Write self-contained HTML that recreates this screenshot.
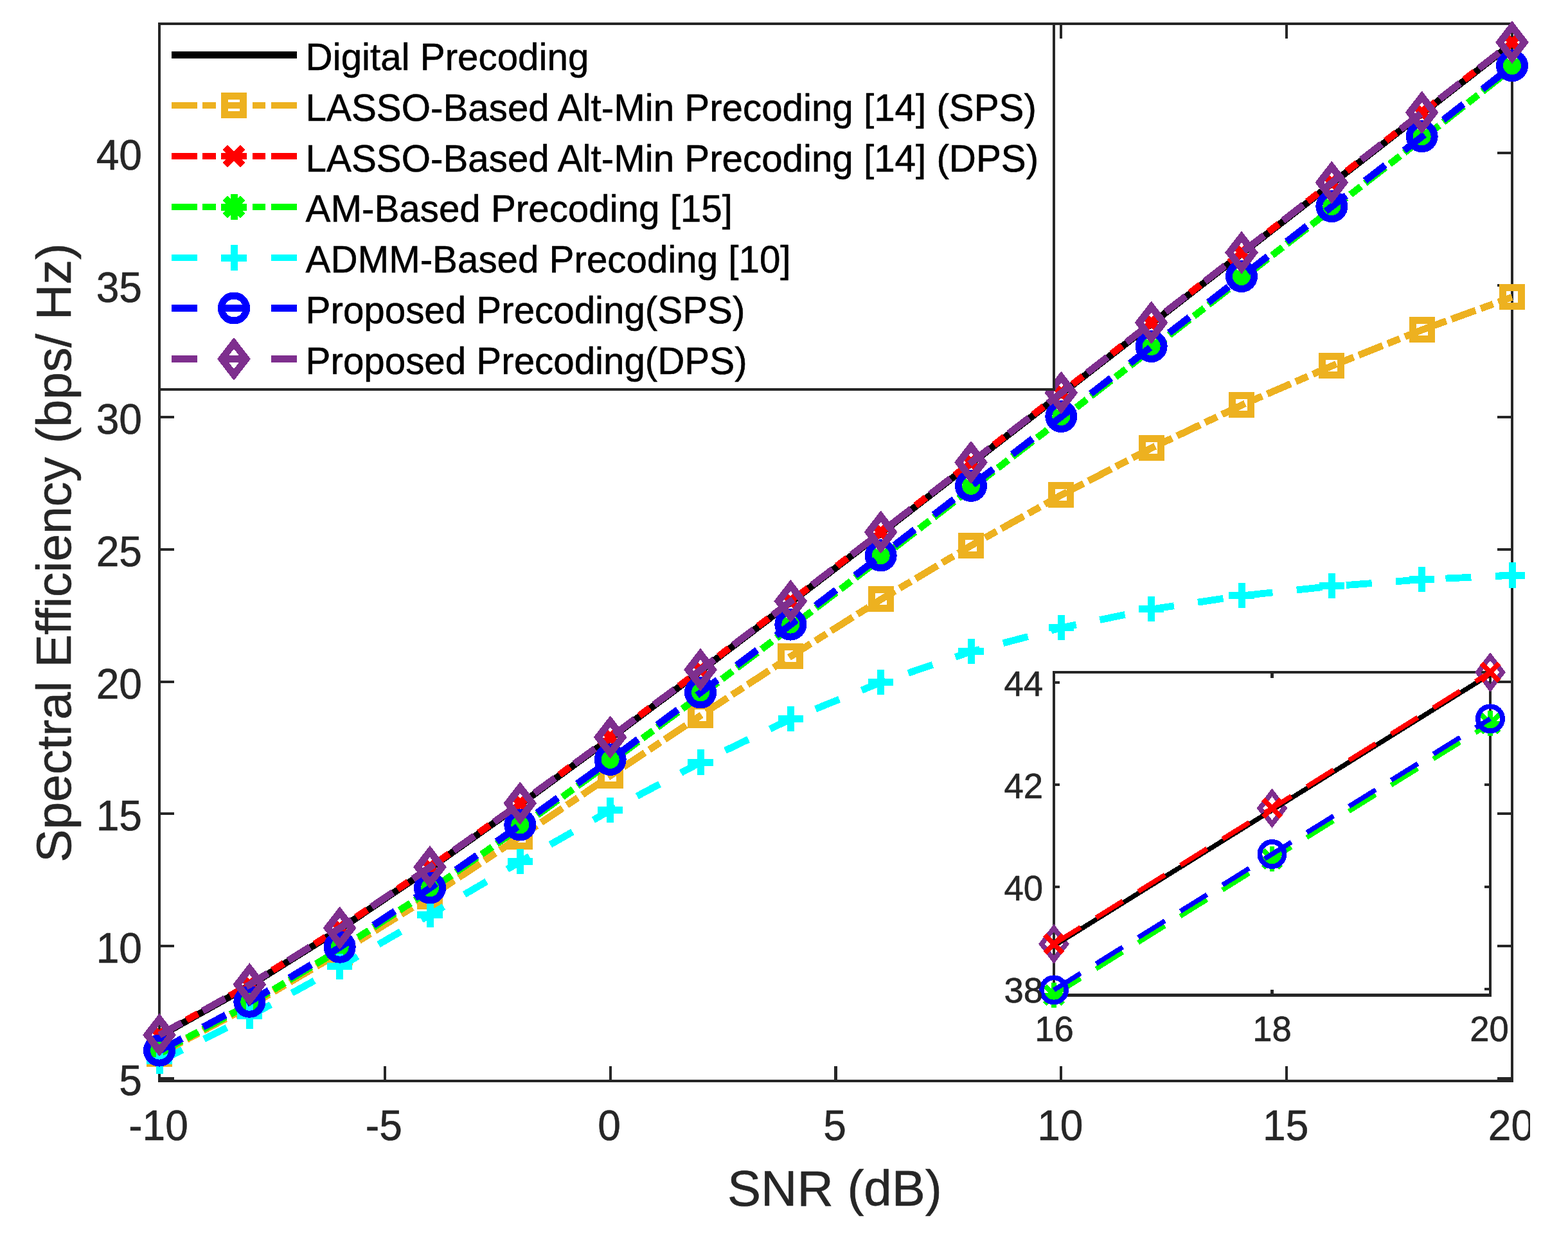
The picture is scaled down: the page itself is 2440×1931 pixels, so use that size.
<!DOCTYPE html>
<html lang="en"><head><meta charset="utf-8"><title>Spectral Efficiency vs SNR</title>
<style>html,body{margin:0;padding:0;background:#fff;width:2440px;height:1931px}svg{display:block}text{font-family:"Liberation Sans",sans-serif;fill:#262626;stroke:#262626;stroke-width:.6px;stroke-linejoin:round}.tk{font-size:64.1px}.itk{font-size:54.5px}.lb{font-size:77px}.lg{font-size:58.3px;fill:#000;stroke:#000}</style></head><body>
<svg width="2440" height="1931" viewBox="0 0 2440 1931">
<rect x="0" y="0" width="2440" height="1931" fill="#ffffff"/>
<g>
<g shape-rendering="crispEdges" stroke="#262626" stroke-width="4.2" fill="none" stroke-linecap="butt">
<rect x="248" y="37" width="2105" height="1645"/>
<path d="M598.83 1682V1659M598.83 37V60M949.67 1682V1659M949.67 37V60M1300.5 1682V1659M1300.5 37V60M1651.33 1682V1659M1651.33 37V60M2002.17 1682V1659M2002.17 37V60M248 1677.67H271M2353 1677.67H2330M248 1472.01H271M2353 1472.01H2330M248 1266.34H271M2353 1266.34H2330M248 1060.68H271M2353 1060.68H2330M248 855.01H271M2353 855.01H2330M248 649.35H271M2353 649.35H2330M248 443.68H271M2353 443.68H2330M248 238.01H271M2353 238.01H2330"/>
</g>
<g shape-rendering="crispEdges" stroke-linecap="butt">
<path d="M248 1612.3 L388.33 1533.7 L528.67 1445.9 L669 1351.1 L809.33 1251.8 L949.67 1149 L1090 1044 L1230.33 937.3 L1370.67 829.9 L1511 721.4 L1651.33 613 L1791.67 503.9 L1932 394.9 L2072.33 285.9 L2212.67 176.9 L2353 67.7" fill="none" stroke="#000000" stroke-width="10.8" stroke-linejoin="miter"/>
<path d="M248 1640.2L283.21 1621.43M290.7 1617.44L308.74 1607.82M316.22 1603.84L351.44 1585.07M358.92 1581.08L376.97 1571.46M384.45 1567.47L388.33 1565.4L418.88 1547.33M426.17 1543.02L443.77 1532.61M451.06 1528.3L485.39 1507.99M492.69 1503.68L510.28 1493.27M517.58 1488.96L528.67 1482.4L551.6 1468.15M558.79 1463.68L576.15 1452.89M583.35 1448.42L617.22 1427.37M624.42 1422.9L641.78 1412.11M648.98 1407.64L669 1395.2L682.58 1386.19M689.64 1381.51L706.67 1370.21M713.72 1365.53L746.94 1343.49M754 1338.81L771.03 1327.51M778.09 1322.83L809.33 1302.1L811.3 1300.77M818.31 1296.03L835.24 1284.58M842.25 1279.84L875.27 1257.51M882.29 1252.76L899.21 1241.32M906.23 1236.57L939.25 1214.24M946.27 1209.5L949.67 1207.2L963.24 1198.13M970.28 1193.42L1003.42 1171.27M1010.47 1166.56L1027.45 1155.21M1034.5 1150.5L1067.64 1128.35M1074.68 1123.64L1090 1113.4L1091.68 1112.3M1098.76 1107.66L1132.1 1085.8M1139.19 1081.15L1156.27 1069.95M1163.36 1065.31L1196.7 1043.45M1203.79 1038.8L1220.87 1027.6M1227.96 1022.96L1230.33 1021.4L1261.65 1001.63M1268.81 997.11L1286.09 986.2M1293.26 981.67L1326.98 960.38M1334.14 955.86L1351.42 944.95M1358.59 940.43L1370.67 932.8L1392.64 919.68M1399.92 915.33L1417.47 904.85M1424.74 900.51L1458.99 880.06M1466.26 875.71L1483.81 865.24M1491.09 860.89L1511 849L1525.57 840.84M1532.97 836.7L1550.8 826.71M1558.2 822.56L1593.01 803.07M1600.4 798.93L1618.24 788.93M1625.64 784.79L1651.33 770.4L1660.6 765.57M1668.12 761.66L1686.26 752.21M1693.78 748.29L1729.17 729.85M1736.69 725.94L1754.83 716.49M1762.35 712.57L1791.67 697.3L1797.85 694.35M1805.51 690.7L1823.98 681.9M1831.63 678.25L1867.67 661.07M1875.33 657.42L1893.79 648.61M1901.45 644.96L1932 630.4L1937.57 627.98M1945.36 624.6L1964.13 616.46M1971.91 613.08L2008.54 597.18M2016.33 593.81L2035.1 585.66M2042.88 582.28L2072.33 569.5L2079.6 566.59M2087.48 563.43L2106.48 555.83M2114.36 552.67L2151.44 537.82M2159.31 534.67L2178.32 527.06M2186.2 523.9L2212.67 513.3L2223.41 509.4M2231.39 506.51L2250.64 499.53M2258.62 496.63L2296.17 483.01M2304.15 480.12L2323.4 473.14M2331.38 470.24L2353 462.4" fill="none" stroke="#EDB120" stroke-width="10.8" stroke-linejoin="miter"/>
<rect x="233.5" y="1625.3" width="29" height="29" fill="none" stroke="#EDB120" stroke-width="11"/><rect x="373.83" y="1550.5" width="29" height="29" fill="none" stroke="#EDB120" stroke-width="11"/><rect x="514.17" y="1467.5" width="29" height="29" fill="none" stroke="#EDB120" stroke-width="11"/><rect x="654.5" y="1380.3" width="29" height="29" fill="none" stroke="#EDB120" stroke-width="11"/><rect x="794.83" y="1287.2" width="29" height="29" fill="none" stroke="#EDB120" stroke-width="11"/><rect x="935.17" y="1192.3" width="29" height="29" fill="none" stroke="#EDB120" stroke-width="11"/><rect x="1075.5" y="1098.5" width="29" height="29" fill="none" stroke="#EDB120" stroke-width="11"/><rect x="1215.83" y="1006.5" width="29" height="29" fill="none" stroke="#EDB120" stroke-width="11"/><rect x="1356.17" y="917.9" width="29" height="29" fill="none" stroke="#EDB120" stroke-width="11"/><rect x="1496.5" y="834.1" width="29" height="29" fill="none" stroke="#EDB120" stroke-width="11"/><rect x="1636.83" y="755.5" width="29" height="29" fill="none" stroke="#EDB120" stroke-width="11"/><rect x="1777.17" y="682.4" width="29" height="29" fill="none" stroke="#EDB120" stroke-width="11"/><rect x="1917.5" y="615.5" width="29" height="29" fill="none" stroke="#EDB120" stroke-width="11"/><rect x="2057.83" y="554.6" width="29" height="29" fill="none" stroke="#EDB120" stroke-width="11"/><rect x="2198.17" y="498.4" width="29" height="29" fill="none" stroke="#EDB120" stroke-width="11"/><rect x="2338.5" y="447.5" width="29" height="29" fill="none" stroke="#EDB120" stroke-width="11"/>
<path d="M248 1610.8L282.81 1591.3M290.2 1587.16L308.04 1577.17M315.44 1573.03L350.25 1553.53M357.64 1549.39L375.48 1539.4M382.88 1535.26L388.33 1532.2L416.84 1514.37M424.02 1509.87L441.35 1499.03M448.53 1494.54L482.34 1473.39M489.52 1468.89L506.84 1458.05M514.03 1453.56L528.67 1444.4L547.39 1431.75M554.41 1427.01L571.34 1415.57M578.36 1410.83L611.39 1388.52M618.41 1383.77L635.34 1372.34M642.36 1367.6L669 1349.6L675.3 1345.15M682.21 1340.25L698.88 1328.46M705.79 1323.56L738.33 1300.54M745.24 1295.65L761.91 1283.85M768.83 1278.96L801.36 1255.94M808.27 1251.05L809.33 1250.3L824.76 1239M831.59 1234L863.73 1210.45M870.56 1205.45L887.04 1193.38M893.87 1188.37L926.01 1164.83M932.84 1159.82L949.32 1147.76M956.1 1142.69L988 1118.82M994.78 1113.75L1011.13 1101.51M1017.91 1096.44L1049.81 1072.57M1056.59 1067.5L1072.94 1055.27M1079.72 1050.2L1090 1042.5L1111.49 1026.16M1118.23 1021.04L1134.48 1008.68M1141.22 1003.56L1172.93 979.44M1179.67 974.32L1195.93 961.96M1202.66 956.84L1230.33 935.8L1234.37 932.71M1241.09 927.57L1257.3 915.16M1264.03 910.01L1295.66 885.8M1302.39 880.66L1318.6 868.25M1325.32 863.1L1356.96 838.89M1363.68 833.75L1370.67 828.4L1379.86 821.29M1386.55 816.12L1418.07 791.75M1424.77 786.57L1440.92 774.09M1447.61 768.91L1479.13 744.54M1485.83 739.36L1501.98 726.88M1508.67 721.7L1511 719.9L1540.2 697.35M1546.9 692.17L1563.06 679.69M1569.75 674.52L1601.28 650.16M1607.98 644.99L1624.14 632.51M1630.84 627.33L1651.33 611.5L1662.33 602.95M1669.02 597.75L1685.13 585.22M1691.82 580.03L1723.27 555.58M1729.95 550.38L1746.07 537.85M1752.75 532.66L1784.2 508.21M1790.88 503.01L1791.67 502.4L1807 490.49M1813.69 485.3L1845.15 460.86M1851.83 455.67L1867.96 443.15M1874.64 437.95L1906.1 413.52M1912.79 408.32L1928.91 395.8M1935.59 390.61L1967.05 366.17M1973.74 360.98L1989.86 348.46M1996.55 343.27L2028.01 318.83M2034.69 313.64L2050.81 301.11M2057.5 295.92L2072.33 284.4L2088.96 271.49M2095.64 266.29L2111.77 253.77M2118.45 248.58L2149.91 224.14M2156.6 218.95L2172.72 206.43M2179.41 201.24L2210.87 176.8M2217.55 171.6L2233.66 159.07M2240.34 153.87L2271.78 129.4M2278.46 124.21L2294.57 111.67M2301.25 106.47L2332.69 82.01M2339.37 76.81L2353 66.2" fill="none" stroke="#FF0000" stroke-width="10.8" stroke-linejoin="miter"/>
<path d="M234.4 1596.8L261.6 1624M234.4 1624L261.6 1596.8" fill="none" stroke="#FF0000" stroke-width="11"/><path d="M374.73 1518.2L401.93 1545.4M374.73 1545.4L401.93 1518.2" fill="none" stroke="#FF0000" stroke-width="11"/><path d="M515.07 1430.4L542.27 1457.6M515.07 1457.6L542.27 1430.4" fill="none" stroke="#FF0000" stroke-width="11"/><path d="M655.4 1335.6L682.6 1362.8M655.4 1362.8L682.6 1335.6" fill="none" stroke="#FF0000" stroke-width="11"/><path d="M795.73 1236.3L822.93 1263.5M795.73 1263.5L822.93 1236.3" fill="none" stroke="#FF0000" stroke-width="11"/><path d="M936.07 1133.5L963.27 1160.7M936.07 1160.7L963.27 1133.5" fill="none" stroke="#FF0000" stroke-width="11"/><path d="M1076.4 1028.5L1103.6 1055.7M1076.4 1055.7L1103.6 1028.5" fill="none" stroke="#FF0000" stroke-width="11"/><path d="M1216.73 921.8L1243.93 949M1216.73 949L1243.93 921.8" fill="none" stroke="#FF0000" stroke-width="11"/><path d="M1357.07 814.4L1384.27 841.6M1357.07 841.6L1384.27 814.4" fill="none" stroke="#FF0000" stroke-width="11"/><path d="M1497.4 705.9L1524.6 733.1M1497.4 733.1L1524.6 705.9" fill="none" stroke="#FF0000" stroke-width="11"/><path d="M1637.73 597.5L1664.93 624.7M1637.73 624.7L1664.93 597.5" fill="none" stroke="#FF0000" stroke-width="11"/><path d="M1778.07 488.4L1805.27 515.6M1778.07 515.6L1805.27 488.4" fill="none" stroke="#FF0000" stroke-width="11"/><path d="M1918.4 379.4L1945.6 406.6M1918.4 406.6L1945.6 379.4" fill="none" stroke="#FF0000" stroke-width="11"/><path d="M2058.73 270.4L2085.93 297.6M2058.73 297.6L2085.93 270.4" fill="none" stroke="#FF0000" stroke-width="11"/><path d="M2199.07 161.4L2226.27 188.6M2199.07 188.6L2226.27 161.4" fill="none" stroke="#FF0000" stroke-width="11"/><path d="M2339.4 52.2L2366.6 79.4M2339.4 79.4L2366.6 52.2" fill="none" stroke="#FF0000" stroke-width="11"/>
<path d="M248 1638.2L283.11 1619.24M290.57 1615.21L308.56 1605.49M316.02 1601.46L351.13 1582.5M358.59 1578.47L376.58 1568.75M384.04 1564.72L388.33 1562.4L418.28 1544.28M425.53 1539.89L443.02 1529.31M450.27 1524.93L484.4 1504.28M491.65 1499.9L509.13 1489.32M516.39 1484.93L528.67 1477.5L550 1463.5M557.08 1458.85L574.17 1447.64M581.25 1442.99L614.58 1421.12M621.66 1416.47L638.74 1405.26M645.83 1400.61L669 1385.4L678.96 1378.46M685.91 1373.61L702.67 1361.93M709.62 1357.09L742.32 1334.3M749.27 1329.46L766.02 1317.78M772.97 1312.94L805.67 1290.15M812.58 1285.25L829.13 1273.29M836 1268.33L868.3 1244.99M875.16 1240.04L891.71 1228.07M898.58 1223.12L930.88 1199.78M937.74 1194.82L949.67 1186.2L954.25 1182.8M961.05 1177.75L993.04 1154M999.84 1148.95L1016.23 1136.78M1023.03 1131.73L1055.02 1107.98M1061.82 1102.93L1078.21 1090.75M1085.01 1085.71L1090 1082L1116.85 1061.76M1123.61 1056.66L1139.91 1044.37M1146.67 1039.27L1178.48 1015.29M1185.24 1010.19L1201.55 997.9M1208.31 992.81L1230.33 976.2L1240.07 968.76M1246.8 963.61L1263.01 951.21M1269.74 946.07L1301.39 921.87M1308.11 916.73L1324.33 904.33M1331.06 899.19L1362.7 874.99M1369.43 869.85L1370.67 868.9L1385.58 857.37M1392.28 852.19L1423.8 827.82M1430.49 822.65L1446.64 810.16M1453.34 804.98L1484.85 780.61M1491.55 775.44L1507.7 762.95M1514.41 757.78L1545.98 733.48M1552.68 728.32L1568.86 715.87M1575.57 710.71L1607.14 686.41M1613.85 681.25L1630.03 668.8M1636.74 663.63L1651.33 652.4L1668.25 639.26M1674.93 634.07L1691.06 621.55M1697.74 616.35L1729.2 591.92M1735.89 586.73L1752.01 574.2M1758.7 569.01L1790.15 544.57M1796.84 539.38L1812.96 526.85M1819.64 521.65L1851.09 497.21M1857.77 492.01L1873.89 479.48M1880.57 474.28L1912.02 449.83M1918.7 444.64L1932 434.3L1934.82 432.11M1941.51 426.92L1972.98 402.5M1979.67 397.31L1995.8 384.79M2002.48 379.61L2033.95 355.18M2040.64 349.99L2056.77 337.48M2063.46 332.29L2072.33 325.4L2094.91 307.85M2101.59 302.65L2117.71 290.12M2124.39 284.93L2155.84 260.48M2162.53 255.28L2178.64 242.75M2185.33 237.56L2212.67 216.3L2216.76 213.09M2223.42 207.86L2239.48 195.26M2246.14 190.04L2277.48 165.45M2284.14 160.23L2300.2 147.63M2306.86 142.4L2338.2 117.81M2344.86 112.59L2353 106.2" fill="none" stroke="#00FF00" stroke-width="10.8" stroke-linejoin="miter"/>
<path d="M228.4 1637.8L267.6 1637.8M248 1618.2L248 1657.4" fill="none" stroke="#00FF00" stroke-width="11"/><path d="M234.4 1624.2L261.6 1651.4M234.4 1651.4L261.6 1624.2" fill="none" stroke="#00FF00" stroke-width="11"/><path d="M368.73 1562L407.93 1562M388.33 1542.4L388.33 1581.6" fill="none" stroke="#00FF00" stroke-width="11"/><path d="M374.73 1548.4L401.93 1575.6M374.73 1575.6L401.93 1548.4" fill="none" stroke="#00FF00" stroke-width="11"/><path d="M509.07 1477.1L548.27 1477.1M528.67 1457.5L528.67 1496.7" fill="none" stroke="#00FF00" stroke-width="11"/><path d="M515.07 1463.5L542.27 1490.7M515.07 1490.7L542.27 1463.5" fill="none" stroke="#00FF00" stroke-width="11"/><path d="M649.4 1385L688.6 1385M669 1365.4L669 1404.6" fill="none" stroke="#00FF00" stroke-width="11"/><path d="M655.4 1371.4L682.6 1398.6M655.4 1398.6L682.6 1371.4" fill="none" stroke="#00FF00" stroke-width="11"/><path d="M789.73 1287.2L828.93 1287.2M809.33 1267.6L809.33 1306.8" fill="none" stroke="#00FF00" stroke-width="11"/><path d="M795.73 1273.6L822.93 1300.8M795.73 1300.8L822.93 1273.6" fill="none" stroke="#00FF00" stroke-width="11"/><path d="M930.07 1185.8L969.27 1185.8M949.67 1166.2L949.67 1205.4" fill="none" stroke="#00FF00" stroke-width="11"/><path d="M936.07 1172.2L963.27 1199.4M936.07 1199.4L963.27 1172.2" fill="none" stroke="#00FF00" stroke-width="11"/><path d="M1070.4 1081.6L1109.6 1081.6M1090 1062L1090 1101.2" fill="none" stroke="#00FF00" stroke-width="11"/><path d="M1076.4 1068L1103.6 1095.2M1076.4 1095.2L1103.6 1068" fill="none" stroke="#00FF00" stroke-width="11"/><path d="M1210.73 975.8L1249.93 975.8M1230.33 956.2L1230.33 995.4" fill="none" stroke="#00FF00" stroke-width="11"/><path d="M1216.73 962.2L1243.93 989.4M1216.73 989.4L1243.93 962.2" fill="none" stroke="#00FF00" stroke-width="11"/><path d="M1351.07 868.5L1390.27 868.5M1370.67 848.9L1370.67 888.1" fill="none" stroke="#00FF00" stroke-width="11"/><path d="M1357.07 854.9L1384.27 882.1M1357.07 882.1L1384.27 854.9" fill="none" stroke="#00FF00" stroke-width="11"/><path d="M1491.4 760L1530.6 760M1511 740.4L1511 779.6" fill="none" stroke="#00FF00" stroke-width="11"/><path d="M1497.4 746.4L1524.6 773.6M1497.4 773.6L1524.6 746.4" fill="none" stroke="#00FF00" stroke-width="11"/><path d="M1631.73 652L1670.93 652M1651.33 632.4L1651.33 671.6" fill="none" stroke="#00FF00" stroke-width="11"/><path d="M1637.73 638.4L1664.93 665.6M1637.73 665.6L1664.93 638.4" fill="none" stroke="#00FF00" stroke-width="11"/><path d="M1772.07 543L1811.27 543M1791.67 523.4L1791.67 562.6" fill="none" stroke="#00FF00" stroke-width="11"/><path d="M1778.07 529.4L1805.27 556.6M1778.07 556.6L1805.27 529.4" fill="none" stroke="#00FF00" stroke-width="11"/><path d="M1912.4 433.9L1951.6 433.9M1932 414.3L1932 453.5" fill="none" stroke="#00FF00" stroke-width="11"/><path d="M1918.4 420.3L1945.6 447.5M1918.4 447.5L1945.6 420.3" fill="none" stroke="#00FF00" stroke-width="11"/><path d="M2052.73 325L2091.93 325M2072.33 305.4L2072.33 344.6" fill="none" stroke="#00FF00" stroke-width="11"/><path d="M2058.73 311.4L2085.93 338.6M2058.73 338.6L2085.93 311.4" fill="none" stroke="#00FF00" stroke-width="11"/><path d="M2193.07 215.9L2232.27 215.9M2212.67 196.3L2212.67 235.5" fill="none" stroke="#00FF00" stroke-width="11"/><path d="M2199.07 202.3L2226.27 229.5M2199.07 229.5L2226.27 202.3" fill="none" stroke="#00FF00" stroke-width="11"/><path d="M2333.4 105.8L2372.6 105.8M2353 86.2L2353 125.4" fill="none" stroke="#00FF00" stroke-width="11"/><path d="M2339.4 92.2L2366.6 119.4M2339.4 119.4L2366.6 92.2" fill="none" stroke="#00FF00" stroke-width="11"/>
<path d="M248 1651.3L283.72 1633.48M317.2 1616.78L352.91 1598.97M386.4 1582.27L388.33 1581.3L421.42 1563.15M454.21 1545.15L489.19 1525.96M521.98 1507.97L528.67 1504.3L556.62 1488.19M589.02 1469.51L623.58 1449.59M655.97 1430.91L669 1423.4L690.43 1410.8M722.66 1391.85L757.05 1371.64M789.28 1352.69L809.33 1340.9L823.78 1332.66M856.27 1314.14L890.93 1294.39M923.42 1275.86L949.67 1260.9L958.22 1256.36M991.26 1238.82L1026.5 1220.11M1059.54 1202.57L1090 1186.4L1094.89 1184.05M1128.61 1167.83L1164.58 1150.53M1198.31 1134.3L1230.33 1118.9L1234.39 1117.25M1269.08 1103.16L1306.08 1088.13M1340.77 1074.04L1370.67 1061.9L1377.93 1059.42M1413.37 1047.29L1451.17 1034.36M1486.61 1022.24L1511 1013.9L1524.72 1010.28M1560.95 1000.73L1599.6 990.54M1635.84 980.99L1651.33 976.9L1674.79 972.07M1711.51 964.51L1750.67 956.44M1787.38 948.88L1791.67 948L1826.89 942.73M1863.96 937.18L1903.51 931.26M1940.64 926.09L1980.42 921.89M2017.7 917.96L2057.48 913.77M2094.83 910.52L2134.72 907.53M2172.11 904.73L2212 901.75M2249.46 900.05L2289.41 898.25M2326.88 896.57L2353 895.4" fill="none" stroke="#00FFFF" stroke-width="10.8" stroke-linejoin="miter"/>
<path d="M228.4 1650.9L267.6 1650.9M248 1631.3L248 1670.5" fill="none" stroke="#00FFFF" stroke-width="11"/><path d="M368.73 1580.9L407.93 1580.9M388.33 1561.3L388.33 1600.5" fill="none" stroke="#00FFFF" stroke-width="11"/><path d="M509.07 1503.9L548.27 1503.9M528.67 1484.3L528.67 1523.5" fill="none" stroke="#00FFFF" stroke-width="11"/><path d="M649.4 1423L688.6 1423M669 1403.4L669 1442.6" fill="none" stroke="#00FFFF" stroke-width="11"/><path d="M789.73 1340.5L828.93 1340.5M809.33 1320.9L809.33 1360.1" fill="none" stroke="#00FFFF" stroke-width="11"/><path d="M930.07 1260.5L969.27 1260.5M949.67 1240.9L949.67 1280.1" fill="none" stroke="#00FFFF" stroke-width="11"/><path d="M1070.4 1186L1109.6 1186M1090 1166.4L1090 1205.6" fill="none" stroke="#00FFFF" stroke-width="11"/><path d="M1210.73 1118.5L1249.93 1118.5M1230.33 1098.9L1230.33 1138.1" fill="none" stroke="#00FFFF" stroke-width="11"/><path d="M1351.07 1061.5L1390.27 1061.5M1370.67 1041.9L1370.67 1081.1" fill="none" stroke="#00FFFF" stroke-width="11"/><path d="M1491.4 1013.5L1530.6 1013.5M1511 993.9L1511 1033.1" fill="none" stroke="#00FFFF" stroke-width="11"/><path d="M1631.73 976.5L1670.93 976.5M1651.33 956.9L1651.33 996.1" fill="none" stroke="#00FFFF" stroke-width="11"/><path d="M1772.07 947.6L1811.27 947.6M1791.67 928L1791.67 967.2" fill="none" stroke="#00FFFF" stroke-width="11"/><path d="M1912.4 926.6L1951.6 926.6M1932 907L1932 946.2" fill="none" stroke="#00FFFF" stroke-width="11"/><path d="M2052.73 911.8L2091.93 911.8M2072.33 892.2L2072.33 931.4" fill="none" stroke="#00FFFF" stroke-width="11"/><path d="M2193.07 901.3L2232.27 901.3M2212.67 881.7L2212.67 920.9" fill="none" stroke="#00FFFF" stroke-width="11"/><path d="M2333.4 895L2372.6 895M2353 875.4L2353 914.6" fill="none" stroke="#00FFFF" stroke-width="11"/>
<path d="M248 1635L283.1 1616.02M316 1598.22L351.09 1579.24M384 1561.45L388.33 1559.1L418.23 1540.99M450.21 1521.62L484.32 1500.96M516.3 1481.59L528.67 1474.1L549.91 1460.14M581.15 1439.62L614.47 1417.73M645.7 1397.21L669 1381.9L678.83 1375.04M709.46 1353.64L742.14 1330.82M772.77 1309.43L805.45 1286.61M835.76 1264.77L868.04 1241.4M898.3 1219.49L930.57 1196.12M960.73 1174.07L992.69 1150.29M1022.66 1128L1054.63 1104.21M1084.6 1081.92L1090 1077.9L1116.43 1057.96M1146.24 1035.46L1178.04 1011.46M1207.86 988.96L1230.33 972L1239.61 964.9M1269.28 942.22L1300.93 918.02M1330.6 895.34L1362.25 871.14M1391.83 848.35L1423.36 824M1452.92 801.17L1484.44 776.82M1514 753.99L1545.58 729.71M1575.19 706.95L1606.77 682.66M1636.38 659.9L1651.33 648.4L1667.89 635.54M1697.39 612.63L1728.85 588.19M1758.34 565.29L1789.8 540.85M1819.29 517.94L1850.75 493.51M1880.25 470.6L1911.71 446.16M1941.2 423.26L1972.67 398.84M2002.18 375.94L2033.65 351.52M2063.15 328.63L2072.33 321.5L2094.62 304.2M2124.13 281.31L2155.6 256.89M2185.1 233.99L2212.67 212.6L2216.56 209.55M2245.95 186.52L2277.29 161.94M2306.69 138.9L2338.03 114.33" fill="none" stroke="#0000FF" stroke-width="10.8" stroke-linejoin="miter"/>
<circle cx="248" cy="1634.6" r="19.5" fill="none" stroke="#0000FF" stroke-width="11"/><circle cx="388.33" cy="1558.7" r="19.5" fill="none" stroke="#0000FF" stroke-width="11"/><circle cx="528.67" cy="1473.7" r="19.5" fill="none" stroke="#0000FF" stroke-width="11"/><circle cx="669" cy="1381.5" r="19.5" fill="none" stroke="#0000FF" stroke-width="11"/><circle cx="809.33" cy="1283.5" r="19.5" fill="none" stroke="#0000FF" stroke-width="11"/><circle cx="949.67" cy="1181.9" r="19.5" fill="none" stroke="#0000FF" stroke-width="11"/><circle cx="1090" cy="1077.5" r="19.5" fill="none" stroke="#0000FF" stroke-width="11"/><circle cx="1230.33" cy="971.6" r="19.5" fill="none" stroke="#0000FF" stroke-width="11"/><circle cx="1370.67" cy="864.3" r="19.5" fill="none" stroke="#0000FF" stroke-width="11"/><circle cx="1511" cy="755.9" r="19.5" fill="none" stroke="#0000FF" stroke-width="11"/><circle cx="1651.33" cy="648" r="19.5" fill="none" stroke="#0000FF" stroke-width="11"/><circle cx="1791.67" cy="539" r="19.5" fill="none" stroke="#0000FF" stroke-width="11"/><circle cx="1932" cy="430" r="19.5" fill="none" stroke="#0000FF" stroke-width="11"/><circle cx="2072.33" cy="321.1" r="19.5" fill="none" stroke="#0000FF" stroke-width="11"/><circle cx="2212.67" cy="212.2" r="19.5" fill="none" stroke="#0000FF" stroke-width="11"/><circle cx="2353" cy="102.2" r="19.5" fill="none" stroke="#0000FF" stroke-width="11"/>
<path d="M248 1610.8L282.81 1591.3M315.44 1573.03L350.25 1553.53M382.88 1535.26L388.33 1532.2L416.84 1514.37M448.53 1494.54L482.34 1473.39M514.03 1453.56L528.67 1444.4L547.39 1431.75M578.36 1410.83L611.39 1388.52M642.36 1367.6L669 1349.6L675.3 1345.15M705.79 1323.56L738.33 1300.54M768.83 1278.96L801.36 1255.94M831.59 1234L863.73 1210.45M893.87 1188.37L926.01 1164.83M956.1 1142.69L988 1118.82M1017.91 1096.44L1049.81 1072.57M1079.72 1050.2L1090 1042.5L1111.49 1026.16M1141.22 1003.56L1172.93 979.44M1202.66 956.84L1230.33 935.8L1234.37 932.71M1264.03 910.01L1295.66 885.8M1325.32 863.1L1356.96 838.89M1386.55 816.12L1418.07 791.75M1447.61 768.91L1479.13 744.54M1508.67 721.7L1511 719.9L1540.2 697.35M1569.75 674.52L1601.28 650.16M1630.84 627.33L1651.33 611.5L1662.33 602.95M1691.82 580.03L1723.27 555.58M1752.75 532.66L1784.2 508.21M1813.69 485.3L1845.15 460.86M1874.64 437.95L1906.1 413.52M1935.59 390.61L1967.05 366.17M1996.55 343.27L2028.01 318.83M2057.5 295.92L2072.33 284.4L2088.96 271.49M2118.45 248.58L2149.91 224.14M2179.41 201.24L2210.87 176.8M2240.34 153.87L2271.78 129.4M2301.25 106.47L2332.69 82.01" fill="none" stroke="#7E2F8E" stroke-width="10.8" stroke-linejoin="miter"/>
<path d="M248 1585.8L267 1610.4L248 1635L229 1610.4Z" fill="none" stroke="#7E2F8E" stroke-width="11" stroke-linejoin="miter" stroke-miterlimit="10"/><path d="M388.33 1507.2L407.33 1531.8L388.33 1556.4L369.33 1531.8Z" fill="none" stroke="#7E2F8E" stroke-width="11" stroke-linejoin="miter" stroke-miterlimit="10"/><path d="M528.67 1419.4L547.67 1444L528.67 1468.6L509.67 1444Z" fill="none" stroke="#7E2F8E" stroke-width="11" stroke-linejoin="miter" stroke-miterlimit="10"/><path d="M669 1324.6L688 1349.2L669 1373.8L650 1349.2Z" fill="none" stroke="#7E2F8E" stroke-width="11" stroke-linejoin="miter" stroke-miterlimit="10"/><path d="M809.33 1225.3L828.33 1249.9L809.33 1274.5L790.33 1249.9Z" fill="none" stroke="#7E2F8E" stroke-width="11" stroke-linejoin="miter" stroke-miterlimit="10"/><path d="M949.67 1122.5L968.67 1147.1L949.67 1171.7L930.67 1147.1Z" fill="none" stroke="#7E2F8E" stroke-width="11" stroke-linejoin="miter" stroke-miterlimit="10"/><path d="M1090 1017.5L1109 1042.1L1090 1066.7L1071 1042.1Z" fill="none" stroke="#7E2F8E" stroke-width="11" stroke-linejoin="miter" stroke-miterlimit="10"/><path d="M1230.33 910.8L1249.33 935.4L1230.33 960L1211.33 935.4Z" fill="none" stroke="#7E2F8E" stroke-width="11" stroke-linejoin="miter" stroke-miterlimit="10"/><path d="M1370.67 803.4L1389.67 828L1370.67 852.6L1351.67 828Z" fill="none" stroke="#7E2F8E" stroke-width="11" stroke-linejoin="miter" stroke-miterlimit="10"/><path d="M1511 694.9L1530 719.5L1511 744.1L1492 719.5Z" fill="none" stroke="#7E2F8E" stroke-width="11" stroke-linejoin="miter" stroke-miterlimit="10"/><path d="M1651.33 586.5L1670.33 611.1L1651.33 635.7L1632.33 611.1Z" fill="none" stroke="#7E2F8E" stroke-width="11" stroke-linejoin="miter" stroke-miterlimit="10"/><path d="M1791.67 477.4L1810.67 502L1791.67 526.6L1772.67 502Z" fill="none" stroke="#7E2F8E" stroke-width="11" stroke-linejoin="miter" stroke-miterlimit="10"/><path d="M1932 368.4L1951 393L1932 417.6L1913 393Z" fill="none" stroke="#7E2F8E" stroke-width="11" stroke-linejoin="miter" stroke-miterlimit="10"/><path d="M2072.33 259.4L2091.33 284L2072.33 308.6L2053.33 284Z" fill="none" stroke="#7E2F8E" stroke-width="11" stroke-linejoin="miter" stroke-miterlimit="10"/><path d="M2212.67 150.4L2231.67 175L2212.67 199.6L2193.67 175Z" fill="none" stroke="#7E2F8E" stroke-width="11" stroke-linejoin="miter" stroke-miterlimit="10"/><path d="M2353 41.2L2372 65.8L2353 90.4L2334 65.8Z" fill="none" stroke="#7E2F8E" stroke-width="11" stroke-linejoin="miter" stroke-miterlimit="10"/>
</g>
<text class="tk" transform="translate(246.5 1774) scale(1 1.0350)" text-anchor="middle">-10</text>
<text class="tk" transform="translate(597.33 1774) scale(1 1.0350)" text-anchor="middle">-5</text>
<text class="tk" transform="translate(948.17 1774) scale(1 1.0350)" text-anchor="middle">0</text>
<text class="tk" transform="translate(1299 1774) scale(1 1.0350)" text-anchor="middle">5</text>
<text class="tk" transform="translate(1649.83 1774) scale(1 1.0350)" text-anchor="middle">10</text>
<text class="tk" transform="translate(2000.67 1774) scale(1 1.0350)" text-anchor="middle">15</text>
<text class="tk" transform="translate(2351.5 1774) scale(1 1.0350)" text-anchor="middle">20</text>
<text class="tk" transform="translate(221 1703.67) scale(1 1.0450)" text-anchor="end">5</text>
<text class="tk" transform="translate(221 1498.01) scale(1 1.0450)" text-anchor="end">10</text>
<text class="tk" transform="translate(221 1292.34) scale(1 1.0450)" text-anchor="end">15</text>
<text class="tk" transform="translate(221 1086.68) scale(1 1.0450)" text-anchor="end">20</text>
<text class="tk" transform="translate(221 881.01) scale(1 1.0450)" text-anchor="end">25</text>
<text class="tk" transform="translate(221 675.35) scale(1 1.0450)" text-anchor="end">30</text>
<text class="tk" transform="translate(221 469.68) scale(1 1.0450)" text-anchor="end">35</text>
<text class="tk" transform="translate(221 264.01) scale(1 1.0450)" text-anchor="end">40</text>
<text class="lb" transform="translate(1298.9 1876.3)" text-anchor="middle" style="font-size:78px">SNR (dB)</text>
<text class="lb" transform="translate(110.3 860.1) rotate(-90)" text-anchor="middle" style="font-size:76.8px">Spectral Efficiency (bps/ Hz)</text>
<g shape-rendering="crispEdges" stroke-linecap="butt">
<rect x="248" y="37" width="1392" height="569" fill="#ffffff" stroke="#262626" stroke-width="4.2"/>
<path d="M267 85.5H462" fill="none" stroke="#000000" stroke-width="10.8"/>
<path d="M267 164H307M315 164H336M344 164H384M393 164H413M422 164H462" fill="none" stroke="#EDB120" stroke-width="10.8"/>
<rect x="349.5" y="149.5" width="29" height="29" fill="none" stroke="#EDB120" stroke-width="11"/>
<path d="M267 243H307M315 243H336M344 243H384M393 243H413M422 243H462" fill="none" stroke="#FF0000" stroke-width="10.8"/>
<path d="M350.4 229.4L377.6 256.6M350.4 256.6L377.6 229.4" fill="none" stroke="#FF0000" stroke-width="11"/>
<path d="M267 322H307M315 322H336M344 322H384M393 322H413M422 322H462" fill="none" stroke="#00FF00" stroke-width="10.8"/>
<path d="M344.4 322L383.6 322M364 302.4L364 341.6" fill="none" stroke="#00FF00" stroke-width="11"/><path d="M350.4 308.4L377.6 335.6M350.4 335.6L377.6 308.4" fill="none" stroke="#00FF00" stroke-width="11"/>
<path d="M267 401H307M344 401H384M422 401H462" fill="none" stroke="#00FFFF" stroke-width="10.8"/>
<path d="M344.4 401L383.6 401M364 381.4L364 420.6" fill="none" stroke="#00FFFF" stroke-width="11"/>
<path d="M267 479.5H307M344 479.5H384M422 479.5H462" fill="none" stroke="#0000FF" stroke-width="10.8"/>
<circle cx="364" cy="479.5" r="19.5" fill="none" stroke="#0000FF" stroke-width="11"/>
<path d="M267 558.5H307M344 558.5H384M422 558.5H462" fill="none" stroke="#7E2F8E" stroke-width="10.8"/>
<path d="M364 533.9L383 558.5L364 583.1L345 558.5Z" fill="none" stroke="#7E2F8E" stroke-width="11" stroke-linejoin="miter" stroke-miterlimit="10"/>
</g>
<text class="lg" transform="translate(475.6 109)" text-anchor="start">Digital Precoding</text>
<text class="lg" transform="translate(475.6 187.8)" text-anchor="start">LASSO-Based Alt-Min Precoding [14] (SPS)</text>
<text class="lg" transform="translate(475.6 266.6)" text-anchor="start">LASSO-Based Alt-Min Precoding [14] (DPS)</text>
<text class="lg" transform="translate(475.6 345.4)" text-anchor="start">AM-Based Precoding [15]</text>
<text class="lg" transform="translate(475.6 424.2)" text-anchor="start">ADMM-Based Precoding [10]</text>
<text class="lg" transform="translate(475.6 503)" text-anchor="start">Proposed Precoding(SPS)</text>
<text class="lg" transform="translate(475.6 581.8)" text-anchor="start">Proposed Precoding(DPS)</text>
<g shape-rendering="crispEdges" stroke="#262626" stroke-width="4.2" fill="none" stroke-linecap="butt">
<rect x="1640" y="1046" width="679" height="502.5" fill="#ffffff"/>
<path d="M1979.5 1548.5V1539.5M1979.5 1046V1055M1640 1539H1649M2319 1539H2310M1640 1380H1649M2319 1380H2310M1640 1221H1649M2319 1221H2310M1640 1062H1649M2319 1062H2310"/>
</g>
<g shape-rendering="crispEdges" stroke-linecap="butt">
<path d="M1640 1444.2L1659 1468.8L1640 1493.4L1621 1468.8Z" fill="none" stroke="#7E2F8E" stroke-width="7.8" stroke-linejoin="miter" stroke-miterlimit="10"/><path d="M1979.5 1233L1998.5 1257.6L1979.5 1282.2L1960.5 1257.6Z" fill="none" stroke="#7E2F8E" stroke-width="7.8" stroke-linejoin="miter" stroke-miterlimit="10"/><path d="M2319 1021.5L2338 1046.1L2319 1070.7L2300 1046.1Z" fill="none" stroke="#7E2F8E" stroke-width="7.8" stroke-linejoin="miter" stroke-miterlimit="10"/>
<path d="M1640 1471.7 L1979.5 1260.5 L2319 1049" fill="none" stroke="#000000" stroke-width="7.5" stroke-linejoin="miter"/>
<path d="M1640 1468.8L1681.61 1442.92M1705.6 1427.99L1747.21 1402.11M1771.21 1387.18L1812.81 1361.29M1836.81 1346.37L1878.42 1320.48M1902.41 1305.55L1944.02 1279.67M1968.02 1264.74L1979.5 1257.6L2009.61 1238.84M2033.6 1223.9L2075.19 1197.99M2099.18 1183.04L2140.77 1157.14M2164.75 1142.19L2206.34 1116.28M2230.33 1101.34L2271.92 1075.43M2295.91 1060.49L2319 1046.1" fill="none" stroke="#FF0000" stroke-width="7.5" stroke-linejoin="miter"/>
<path d="M1626.1 1454.9L1653.9 1482.7M1626.1 1482.7L1653.9 1454.9" fill="none" stroke="#FF0000" stroke-width="7.8"/><path d="M1965.6 1243.7L1993.4 1271.5M1965.6 1271.5L1993.4 1243.7" fill="none" stroke="#FF0000" stroke-width="7.8"/><path d="M2305.1 1032.2L2332.9 1060M2305.1 1060L2332.9 1032.2" fill="none" stroke="#FF0000" stroke-width="7.8"/>
<path d="M1640 1548.4L1681.57 1522.47M1705.55 1507.51L1747.12 1481.57M1771.1 1466.61L1812.67 1440.68M1836.65 1425.72L1878.22 1399.78M1902.2 1384.82L1943.77 1358.89M1967.75 1343.93L1979.5 1336.6L2009.37 1318.06M2033.38 1303.15L2075 1277.3M2099.02 1262.39L2140.64 1236.54M2164.65 1221.64L2206.28 1195.79M2230.29 1180.88L2271.92 1155.03M2295.93 1140.12L2319 1125.8" fill="none" stroke="#00FF00" stroke-width="7.5" stroke-linejoin="miter"/>
<path d="M1620.4 1548.4L1659.6 1548.4M1640 1528.8L1640 1568" fill="none" stroke="#00FF00" stroke-width="7.8"/><path d="M1626.1 1534.5L1653.9 1562.3M1626.1 1562.3L1653.9 1534.5" fill="none" stroke="#00FF00" stroke-width="7.8"/><path d="M1959.9 1336.6L1999.1 1336.6M1979.5 1317L1979.5 1356.2" fill="none" stroke="#00FF00" stroke-width="7.8"/><path d="M1965.6 1322.7L1993.4 1350.5M1965.6 1350.5L1993.4 1322.7" fill="none" stroke="#00FF00" stroke-width="7.8"/><path d="M2299.4 1125.8L2338.6 1125.8M2319 1106.2L2319 1145.4" fill="none" stroke="#00FF00" stroke-width="7.8"/><path d="M2305.1 1111.9L2332.9 1139.7M2305.1 1139.7L2332.9 1111.9" fill="none" stroke="#00FF00" stroke-width="7.8"/>
<path d="M1640 1540.4L1681.59 1514.5M1705.59 1499.56L1747.18 1473.66M1771.17 1458.72L1812.77 1432.82M1836.76 1417.88L1878.35 1391.98M1902.34 1377.04L1943.94 1351.14M1967.93 1336.2L1979.5 1329L2009.55 1310.35M2033.57 1295.45L2075.2 1269.61M2099.21 1254.7L2140.85 1228.86M2164.86 1213.96L2206.5 1188.12M2230.51 1173.22L2272.14 1147.38M2296.16 1132.48L2319 1118.3" fill="none" stroke="#0000FF" stroke-width="7.5" stroke-linejoin="miter"/>
<circle cx="1640" cy="1540.4" r="19.1" fill="none" stroke="#0000FF" stroke-width="7.8"/><circle cx="1979.5" cy="1329" r="19.1" fill="none" stroke="#0000FF" stroke-width="7.8"/><circle cx="2319" cy="1118.3" r="19.1" fill="none" stroke="#0000FF" stroke-width="7.8"/>
</g>
<text class="itk" transform="translate(1623 1560) scale(1 1.0200)" text-anchor="end">38</text>
<text class="itk" transform="translate(1623 1401) scale(1 1.0200)" text-anchor="end">40</text>
<text class="itk" transform="translate(1623 1242) scale(1 1.0200)" text-anchor="end">42</text>
<text class="itk" transform="translate(1623 1083) scale(1 1.0200)" text-anchor="end">44</text>
<text class="itk" transform="translate(1640.5 1619.8) scale(1 1.0200)" text-anchor="middle">16</text>
<text class="itk" transform="translate(1979.5 1619.8) scale(1 1.0200)" text-anchor="middle">18</text>
<text class="itk" transform="translate(2317.5 1619.8) scale(1 1.0200)" text-anchor="middle">20</text>
</g>
<rect x="2381" y="0" width="59" height="1931" fill="#ffffff"/>
</svg></body></html>
